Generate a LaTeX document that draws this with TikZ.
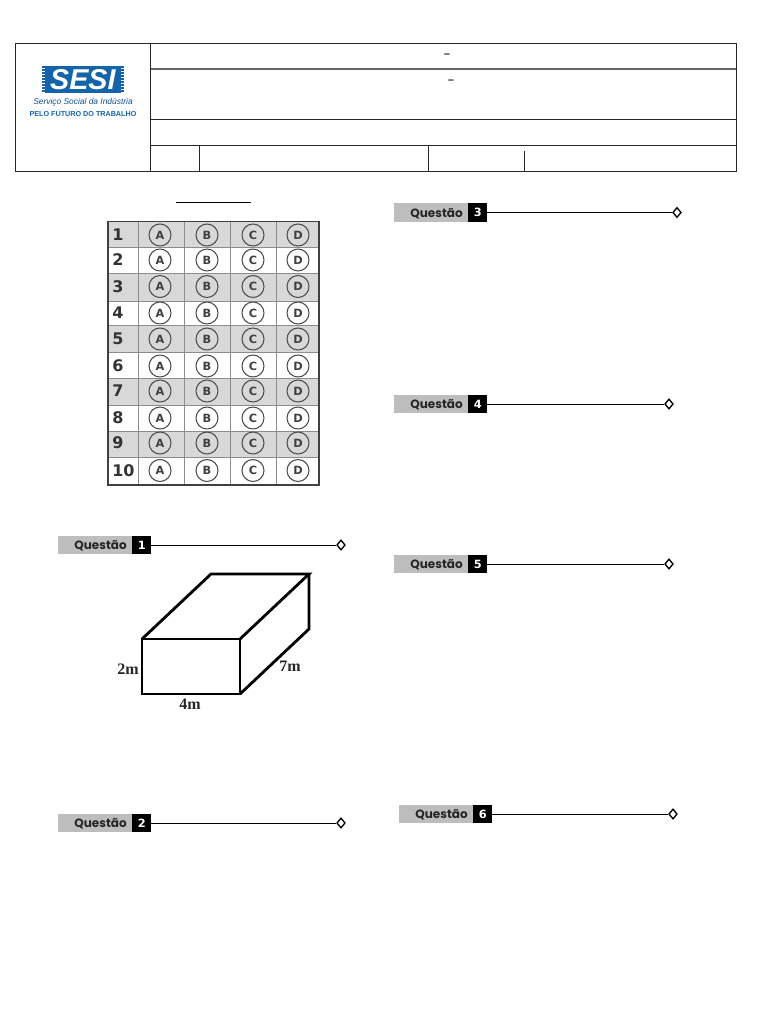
\documentclass[tikz,border=0pt]{standalone}
\usepackage{fontspec}
\setmainfont{Liberation Sans}
\newfontfamily\quizfont{DejaVu Sans}
\newfontfamily\tagfont{Poppins}
\newfontfamily\boxfont{Liberation Serif}
\usetikzlibrary{shapes.geometric}
\definecolor{sesiblue}{HTML}{1464AC}
\definecolor{rowgray}{HTML}{D8D8D8}
\definecolor{taggray}{HTML}{BDBDBD}
\tikzset{
	frameline/.style={draw=black!85,line width=0.7pt},
	tagbar/.style={fill=taggray,minimum width=74pt*0.75,minimum height=14.2pt,inner sep=0pt,anchor=west},
	tagname/.style={font=\tagfont\bfseries\fontsize{9}{10}\selectfont,inner sep=0pt,anchor=east,text=black!85},
	tagnum/.style={fill=black,text=white,font=\quizfont\bfseries\fontsize{8.5}{10}\selectfont,minimum width=14.2pt,minimum height=14.2pt,inner sep=0pt,anchor=west},
	tagend/.style={diamond,draw=black,fill=white,line width=1pt,minimum width=6.4pt,minimum height=7.6pt,inner sep=0pt},
	bubble/.style={circle,draw=black!70,line width=0.8pt,minimum size=16.5pt,inner sep=0pt,font=\quizfont\bfseries\fontsize{8.5}{9}\selectfont,text=black!75},
	rownum/.style={font=\quizfont\bfseries\fontsize{12}{12}\selectfont,inner sep=0pt,text=black!80},
	sizelabel/.style={font=\boxfont\bfseries\fontsize{12}{12}\selectfont,inner sep=0pt,text=black!85},
}
\begin{document}
\begin{tikzpicture}[x=0.75pt,y=-0.75pt]
\useasboundingbox (0,0) rectangle (768,1024);
% header
\draw [frameline] (15,43) rectangle (736,171);
\draw [frameline] (150.5,43)--(150.5,171);
\draw [draw=black!60,line width=1.1pt] (150.5,69)--(736,69);
\draw [frameline] (150.5,119.5)--(736,119.5);
\draw [frameline] (150.5,145)--(736,145);
\draw [frameline] (199.5,145)--(199.5,171);
\draw [frameline] (428.5,145)--(428.5,171);
\draw [frameline] (524.5,151)--(524.5,171);
\node [inner sep=0pt,font=\quizfont\bfseries\fontsize{8}{9}\selectfont] (dash1) at (447,54) {\_};
\node [inner sep=0pt,font=\quizfont\bfseries\fontsize{8}{9}\selectfont] (dash2) at (451,80) {\_};
\draw [black,line width=0.6pt] (176,202)--(251,202);
% logo
\node [fill=sesiblue,minimum width=61.9pt,minimum height=20.9pt,inner sep=0pt,text=white,
	font=\bfseries\itshape\fontsize{21.5}{21}\selectfont] (logo) at (82.8,79.5) {SESI};
\foreach \y in {68,71,74,77,80,83,86,89,92}{
	\draw [white,line width=0.4pt] (41.5,\y)--(45,\y);
	\draw [white,line width=0.4pt] (120.5,\y)--(124.5,\y);
}
\node [text=sesiblue!80!black,inner sep=0pt,font=\itshape\fontsize{6.3}{7}\selectfont] (sub) at (83,102) {Serviço Social da Indústria};
\node [text=sesiblue,inner sep=0pt,font=\bfseries\fontsize{5.4}{7}\selectfont] (motto) at (83,114.5) {PELO FUTURO DO TRABALHO};
% answer sheet
\foreach \t/\b in {221.5/247,273/301,325/352,378/405,431/457}{
	\fill [rowgray] (108,\t) rectangle (319,\b);
}
\foreach \y in {247,273,301,325,352,378,405,431,457}{
	\draw [black!45,line width=0.7pt] (108,\y)--(319,\y);
}
\foreach \x in {138,184,230,276}{
	\draw [black!45,line width=0.7pt] (\x,221.5)--(\x,485);
}
\draw [draw=black!75,line width=1.3pt] (108,221.5) rectangle (319,485);
\foreach \r/\y in {1/235,2/260,3/286.5,4/313,5/339,6/366,7/391,8/418,9/443,10/470.5}{
	\node [rownum,anchor=west] (n\r) at (112,\y) {\r};
	\node [bubble] (a\r) at (160,\y) {A};
	\node [bubble] (b\r) at (207,\y) {B};
	\node [bubble] (c\r) at (253,\y) {C};
	\node [bubble] (d\r) at (298,\y) {D};
}
% question bars
\foreach \q/\x/\y/\e in {1/58/545/341,2/58/823/341,3/394/212.5/677,4/394/404/669,5/394/564/669,6/399/814/673}{
	\node [tagbar] (bar\q) at (\x,\y) {};
	\node [tagnum] (num\q) at (\x+74,\y) {\q};
	\node [tagname] (name\q) at (\x+69,\y+1) {Questão};
	\node [tagend] (end\q) at (\e,\y) {};
	\draw [black,line width=0.7pt] (num\q)--(end\q);
}
% box
\coordinate (fa) at (142,639);
\coordinate (fb) at (240,639);
\coordinate (fc) at (240,694);
\coordinate (fd) at (142,694);
\coordinate (ta) at (211,574);
\coordinate (tb) at (309,574);
\coordinate (tc) at (309,629);
\draw [black,line width=2.1pt,line join=miter] (fa)--(fb)--(fc)--(fd)--cycle;
\draw [black,line width=2.1pt] (fa)--(ta)--(tb)--(fb);
\draw [black,line width=2.1pt] (tb)--(tc)--(fc);
\node [sizelabel] (h) at (128,669) {2m};
\node [sizelabel] (d) at (290,666) {7m};
\node [sizelabel] (w) at (190,704) {4m};
\end{tikzpicture}
\end{document}
